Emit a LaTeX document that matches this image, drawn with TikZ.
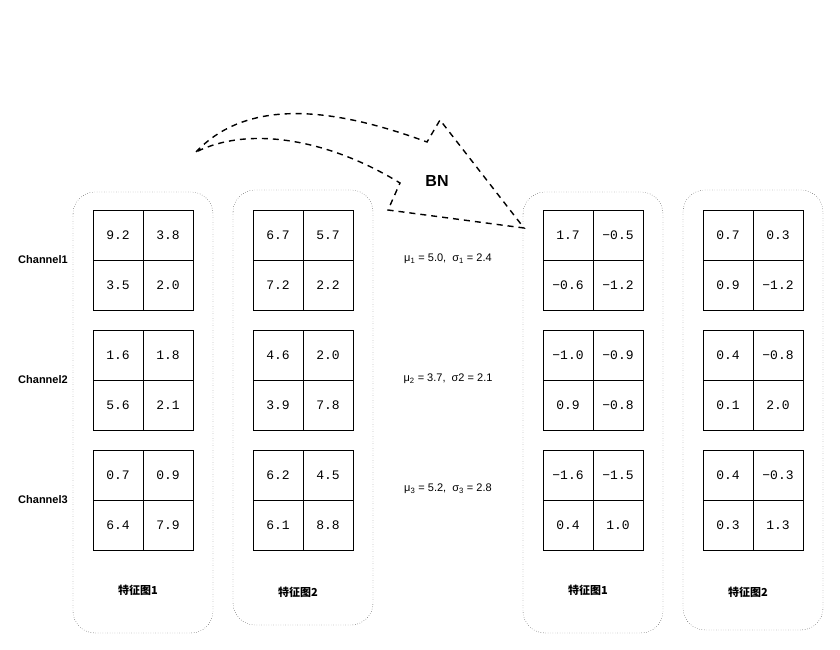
\documentclass[tikz,border=0pt]{standalone}
\usepackage{fontspec}
\setmainfont{Liberation Sans}
\newfontfamily\numfont{Liberation Mono}
\newfontfamily\cjk{Noto Sans CJK SC}
\begin{document}
\begin{tikzpicture}[x=1pt,y=-1pt,
  cont/.style={draw,dotted,rounded corners=22pt},
  cell/.style={draw,minimum width=50pt,minimum height=50pt,inner sep=0pt,font=\numfont\fontsize{13}{13}\selectfont},
  lab/.style={font=\fontsize{11}{11}\selectfont\bfseries},
  form/.style={font=\fontsize{11}{11}\selectfont}]
\useasboundingbox (0,0) rectangle (840,650);
\newcommand\mygrid[6]{%
  \node[cell] (#1a) at (#2+25,#3+25) {#4};
  \node[cell] (#1b) at (#2+75,#3+25) {#5};
  \node[cell] (#1c) at (#2+25,#3+75) {#6};}
\newcommand\mygridd[4]{\node[cell] (#1d) at (#2+75,#3+75) {#4};}
\draw[cont] (73,192) rectangle (213,633);
\draw[cont] (233,190) rectangle (373,625);
\draw[cont] (523,192) rectangle (663,633);
\draw[cont] (683,190) rectangle (823,630);
% left FM1
\mygrid{p}{93}{210}{9.2}{3.8}{3.5}\mygridd{p}{93}{210}{2.0}
\mygrid{q}{93}{330}{1.6}{1.8}{5.6}\mygridd{q}{93}{330}{2.1}
\mygrid{r}{93}{450}{0.7}{0.9}{6.4}\mygridd{r}{93}{450}{7.9}
% left FM2
\mygrid{s}{253}{210}{6.7}{5.7}{7.2}\mygridd{s}{253}{210}{2.2}
\mygrid{t}{253}{330}{4.6}{2.0}{3.9}\mygridd{t}{253}{330}{7.8}
\mygrid{u}{253}{450}{6.2}{4.5}{6.1}\mygridd{u}{253}{450}{8.8}
% right FM1
\mygrid{v}{543}{210}{1.7}{−0.5}{−0.6}\mygridd{v}{543}{210}{−1.2}
\mygrid{w}{543}{330}{−1.0}{−0.9}{0.9}\mygridd{w}{543}{330}{−0.8}
\mygrid{x}{543}{450}{−1.6}{−1.5}{0.4}\mygridd{x}{543}{450}{1.0}
% right FM2
\mygrid{y}{703}{210}{0.7}{0.3}{0.9}\mygridd{y}{703}{210}{−1.2}
\mygrid{z}{703}{330}{0.4}{−0.8}{0.1}\mygridd{z}{703}{330}{2.0}
\mygrid{k}{703}{450}{0.4}{−0.3}{0.3}\mygridd{k}{703}{450}{1.3}
\node[lab] (c1) at (43,260) {Channel1};
\node[lab] (c2) at (43,380) {Channel2};
\node[lab] (c3) at (43,500) {Channel3};
\node[lab,font=\cjk\fontsize{11}{11}\selectfont\bfseries] (l1) at (138,590) {特征图1};
\node[lab,font=\cjk\fontsize{11}{11}\selectfont\bfseries] (l2) at (298,592) {特征图2};
\node[lab,font=\cjk\fontsize{11}{11}\selectfont\bfseries] (l3) at (588,590) {特征图1};
\node[lab,font=\cjk\fontsize{11}{11}\selectfont\bfseries] (l4) at (748,592) {特征图2};
\node[form] (f1) at (448,259) {μ\textsubscript{1} = 5.0,\ \ σ\textsubscript{1} = 2.4};
\node[form] (f2) at (448,379) {μ\textsubscript{2} = 3.7,\ \ σ2 = 2.1};
\node[form] (f3) at (448,489) {μ\textsubscript{3} = 5.2,\ \ σ\textsubscript{3} = 2.8};
\node[font=\fontsize{16}{16}\selectfont\bfseries] (bn) at (437,181) {BN};
\draw[dashed,line width=1.4pt,dash pattern=on 6pt off 5pt]
  (196,152) .. controls (250,95) and (340,110) .. (427,142)
  -- (440,120) -- (524,228) -- (388,210) -- (400,183)
  .. controls (330,140) and (250,125) .. (196,152) -- cycle;
\end{tikzpicture}
\end{document}
